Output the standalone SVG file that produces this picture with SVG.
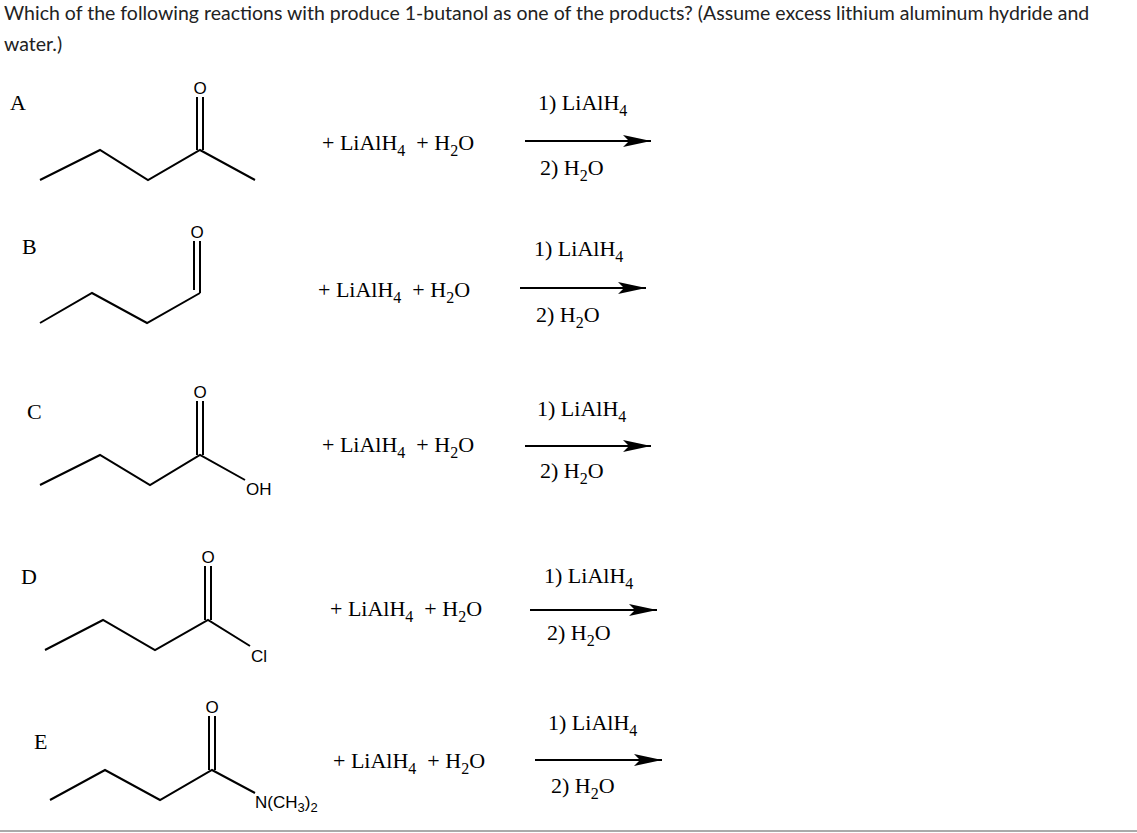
<svg xmlns="http://www.w3.org/2000/svg" width="1137" height="833" viewBox="0 0 1137 833">
<defs>
<marker id="ah" viewBox="0 0 28 12" refX="28" refY="6" markerWidth="28" markerHeight="12" markerUnits="userSpaceOnUse" orient="auto"><path d="M0,0 L28,6 L0,12 L6,6 Z" fill="#000"/></marker>
</defs>
<style>
.q{font-family:Lato,"Liberation Sans",sans-serif;font-size:19.5px;fill:#222}
.t{font-family:"Liberation Serif","Times New Roman",serif;font-size:22px;fill:#000;white-space:pre}
.s{font-family:"Liberation Sans",sans-serif;font-size:17px;fill:#000}
.b{fill:none;stroke:#000;stroke-width:2}
.ar{stroke:#000;stroke-width:2;marker-end:url(#ah)}
</style>
<rect width="1137" height="833" fill="#fff"/>
<text class="q" x="4" y="20">Which  of the following reactions with produce 1-butanol as one of the products? (Assume excess lithium aluminum hydride and</text>
<text class="q" x="4" y="51">water.)</text>
<g id="A">
<text class="t" x="10" y="110">A</text>
<polyline class="b" points="40,180 100,150 148,180 200,150 255,180"/>
<line class="b" x1="197" y1="150" x2="197" y2="97"/><line class="b" x1="203" y1="150" x2="203" y2="97"/>
<text class="s" x="200" y="94" text-anchor="middle">O</text>
<text class="t" x="322" y="150" xml:space="preserve">+ LiAlH<tspan font-size="16" dy="6">4</tspan><tspan dy="-6">  + H</tspan><tspan font-size="16" dy="6">2</tspan><tspan dy="-6">O</tspan></text>
<text class="t" x="538" y="110">1) LiAlH<tspan font-size="16" dy="6">4</tspan></text>
<text class="t" x="540" y="175">2) H<tspan font-size="16" dy="6">2</tspan><tspan dy="-6">O</tspan></text>
</g>
<g id="B">
<text class="t" x="22" y="254">B</text>
<polyline class="b" points="40,323 92,293 147,323 200,293"/>
<line class="b" x1="194" y1="290" x2="194" y2="241"/><line class="b" x1="200" y1="293" x2="200" y2="241"/>
<text class="s" x="197" y="238" text-anchor="middle">O</text>
<text class="t" x="318" y="297" xml:space="preserve">+ LiAlH<tspan font-size="16" dy="6">4</tspan><tspan dy="-6">  + H</tspan><tspan font-size="16" dy="6">2</tspan><tspan dy="-6">O</tspan></text>
<text class="t" x="534" y="256">1) LiAlH<tspan font-size="16" dy="6">4</tspan></text>
<text class="t" x="536" y="322">2) H<tspan font-size="16" dy="6">2</tspan><tspan dy="-6">O</tspan></text>
</g>
<g id="C">
<text class="t" x="27" y="419">C</text>
<polyline class="b" points="40,485 100,455 150,485 200,455 245,480"/>
<line class="b" x1="197" y1="455" x2="197" y2="401"/><line class="b" x1="203" y1="455" x2="203" y2="401"/>
<text class="s" x="200" y="398" text-anchor="middle">O</text>
<text class="s" x="246" y="495">OH</text>
<text class="t" x="322" y="452" xml:space="preserve">+ LiAlH<tspan font-size="16" dy="6">4</tspan><tspan dy="-6">  + H</tspan><tspan font-size="16" dy="6">2</tspan><tspan dy="-6">O</tspan></text>
<text class="t" x="537" y="416">1) LiAlH<tspan font-size="16" dy="6">4</tspan></text>
<text class="t" x="540" y="478">2) H<tspan font-size="16" dy="6">2</tspan><tspan dy="-6">O</tspan></text>
</g>
<g id="D">
<text class="t" x="21" y="584">D</text>
<polyline class="b" points="45,650 103,620 155,650 208,620 250,646"/>
<line class="b" x1="205" y1="620" x2="205" y2="566"/><line class="b" x1="211" y1="620" x2="211" y2="566"/>
<text class="s" x="208" y="563" text-anchor="middle">O</text>
<text class="s" x="251" y="662">Cl</text>
<text class="t" x="330" y="616" xml:space="preserve">+ LiAlH<tspan font-size="16" dy="6">4</tspan><tspan dy="-6">  + H</tspan><tspan font-size="16" dy="6">2</tspan><tspan dy="-6">O</tspan></text>
<text class="t" x="544" y="583">1) LiAlH<tspan font-size="16" dy="6">4</tspan></text>
<text class="t" x="547" y="640">2) H<tspan font-size="16" dy="6">2</tspan><tspan dy="-6">O</tspan></text>
</g>
<g id="E">
<text class="t" x="34" y="749">E</text>
<polyline class="b" points="50,800 105,770 160,800 212,770 255,793"/>
<line class="b" x1="209" y1="770" x2="209" y2="716"/><line class="b" x1="215" y1="770" x2="215" y2="716"/>
<text class="s" x="212" y="713" text-anchor="middle">O</text>
<text class="s" x="255" y="808">N(CH<tspan font-size="13" dy="4">3</tspan><tspan dy="-4">)</tspan><tspan font-size="13" dy="4">2</tspan></text>
<text class="t" x="333" y="768" xml:space="preserve">+ LiAlH<tspan font-size="16" dy="6">4</tspan><tspan dy="-6">  + H</tspan><tspan font-size="16" dy="6">2</tspan><tspan dy="-6">O</tspan></text>
<text class="t" x="548" y="730">1) LiAlH<tspan font-size="16" dy="6">4</tspan></text>
<text class="t" x="551" y="793">2) H<tspan font-size="16" dy="6">2</tspan><tspan dy="-6">O</tspan></text>
</g>
<g id="connectors">
<line class="ar" x1="525" y1="141" x2="651" y2="141"/>
<line class="ar" x1="520" y1="288" x2="646" y2="288"/>
<line class="ar" x1="525" y1="446" x2="651" y2="446"/>
<line class="ar" x1="530" y1="610" x2="657" y2="610"/>
<line class="ar" x1="535" y1="760" x2="662" y2="760"/>
</g>
<line x1="0" y1="831" x2="1137" y2="831" stroke="#aaa" stroke-width="2"/>
</svg>
